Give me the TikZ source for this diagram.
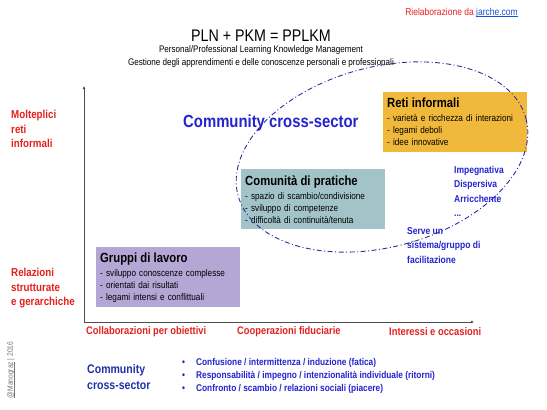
\documentclass[tikz,border=0pt]{standalone}
\usepackage{fontspec}
\setmainfont{Liberation Sans}[FakeStretch=0.85]
\usepackage{xcolor}
\usepackage{tikz}
\usetikzlibrary{arrows.meta, positioning}
\definecolor{lblred}{HTML}{E3201E}
\definecolor{txtblue}{HTML}{2323CF}
\definecolor{deepblue}{HTML}{2030A8}
\definecolor{loopblue}{HTML}{2E2E9E}
\definecolor{linkblue}{HTML}{1A4FD8}
\definecolor{retifill}{HTML}{F0B93B}
\definecolor{comfill}{HTML}{A2C4C9}
\definecolor{grpfill}{HTML}{B4A7D6}
\tikzset{
  redlbl/.style={anchor=north west,inner sep=0pt,align=left,text=lblred,font=\bfseries\fontsize{11.5}{14.5}\selectfont},
  axislbl/.style={anchor=west,inner sep=0pt,text=lblred,font=\bfseries\fontsize{11}{13}\selectfont},
  groupbox/.style={anchor=north west,minimum width=144pt,minimum height=60pt,text width=136pt,inner sep=4pt,align=left,font=\fontsize{9.6}{12}\selectfont},
  bluenote/.style={anchor=north west,inner sep=0pt,align=left,text=txtblue,font=\bfseries\fontsize{10}{14.5}\selectfont},
  axisline/.style={-{Latex[length=3pt,width=3pt]},line width=0.8pt,black!70},
  crossloop/.style={draw=loopblue,line width=0.9pt,dash pattern=on 5pt off 2.5pt on 1pt off 2.5pt},
}
\newcommand{\boxhead}[1]{{\bfseries\fontsize{13.3}{15}\selectfont #1}\\[2pt]}
\newsavebox{\undlbox}
\newcommand{\undl}[1]{\sbox{\undlbox}{#1}\rlap{\rule[-1.3pt]{\wd\undlbox}{0.5pt}}\usebox{\undlbox}}

\begin{document}
\begin{tikzpicture}[x=1pt,y=-1pt]
  \useasboundingbox (0,0) rectangle (547,410);
  % header
  \node[anchor=east,inner sep=0pt,font=\fontsize{10}{12}\selectfont] (nSource) at (518,13)
    {\textcolor{lblred}{Rielaborazione da} \textcolor{linkblue}{\undl{jarche.com}}};
  \node[inner sep=0pt,font=\fontsize{16.8}{19}\selectfont] (nTitle) at (261,36) {PLN + PKM = PPLKM};
  \node[inner sep=0pt,align=center,font=\fontsize{9.5}{13}\selectfont,anchor=north] (nSubtitle) at (261,45)
    {Personal/Professional Learning Knowledge Management\\Gestione degli apprendimenti e delle conoscenze personali e professionali};
  % axes
  \coordinate (cOrigin) at (84,322);
  \coordinate (cTop) at (84,86);
  \coordinate (cRight) at (474,322);
  \draw[axisline] (cOrigin) -- (cTop);
  \draw[axisline] (cOrigin) -- (cRight);
  \node[redlbl] (nMolteplici) at (11,110) {Molteplici\\reti\\informali};
  \node[redlbl] (nRelazioni) at (11,268) {Relazioni\\strutturate\\e gerarchiche};
  \node[axislbl] (nCollab) at (86,332) {Collaborazioni per obiettivi};
  \node[axislbl] (nCoop) at (237,332) {Cooperazioni fiduciarie};
  \node[axislbl] (nInteressi) at (389,332) {Interessi e occasioni};
  \node[rotate=90,inner sep=0pt,text=black!55,font=\fontsize{7.8}{9}\selectfont] (nAuthor) at (11,370)
    {\undl{@Manograz} | 2016};
  % boxes
  \node[groupbox,fill=retifill] (nReti) at (383,92)
    {\boxhead{Reti informali}- varietà e ricchezza di interazioni\\- legami deboli\\- idee innovative};
  \node[groupbox,fill=comfill] (nComunita) at (241,169)
    {\boxhead{Comunità di pratiche}- spazio di scambio/condivisione\\- sviluppo di competenze\\- difficoltà di continuità/tenuta};
  \node[groupbox,fill=grpfill] (nGruppi) at (96,247)
    {\boxhead{Gruppi di lavoro}- sviluppo conoscenze complesse\\- orientati dai risultati\\- legami intensi e conflittuali};
  \node[anchor=west,inner sep=0pt,text=txtblue,font=\bfseries\fontsize{17.5}{20}\selectfont] (nCross) at (183,123)
    {Community cross-sector};
  \node[bluenote] (nImpegno) at (454,166) {Impegnativa\\Dispersiva\\Arricchente\\...};
  \node[bluenote] (nServe) at (407,227) {Serve un\\sistema/gruppo di\\facilitazione};
  % footer
  \node[anchor=north west,inner sep=0pt,align=left,text=deepblue,font=\bfseries\fontsize{12.4}{16}\selectfont] (nFooter) at (87,364)
    {Community\\cross-sector};
  \node[anchor=north west,inner sep=0pt,text=txtblue,font=\bfseries\fontsize{9.8}{13}\selectfont] (nBullets) at (182,356)
    {\begin{tabular}{@{}l@{\hspace{11pt}}l@{}}
      \textbullet & Confusione / intermittenza / induzione (fatica)\\
      \textbullet & Responsabilità / impegno / intenzionalità individuale (ritorni)\\
      \textbullet & Confronto / scambio / relazioni sociali (piacere)
    \end{tabular}};
  % the cross-sector area
  \coordinate (cLoop) at (382,157);
  \draw[crossloop,rotate around={15:(cLoop)}] (cLoop) ellipse [x radius=149,y radius=90];
\end{tikzpicture}
\end{document}
